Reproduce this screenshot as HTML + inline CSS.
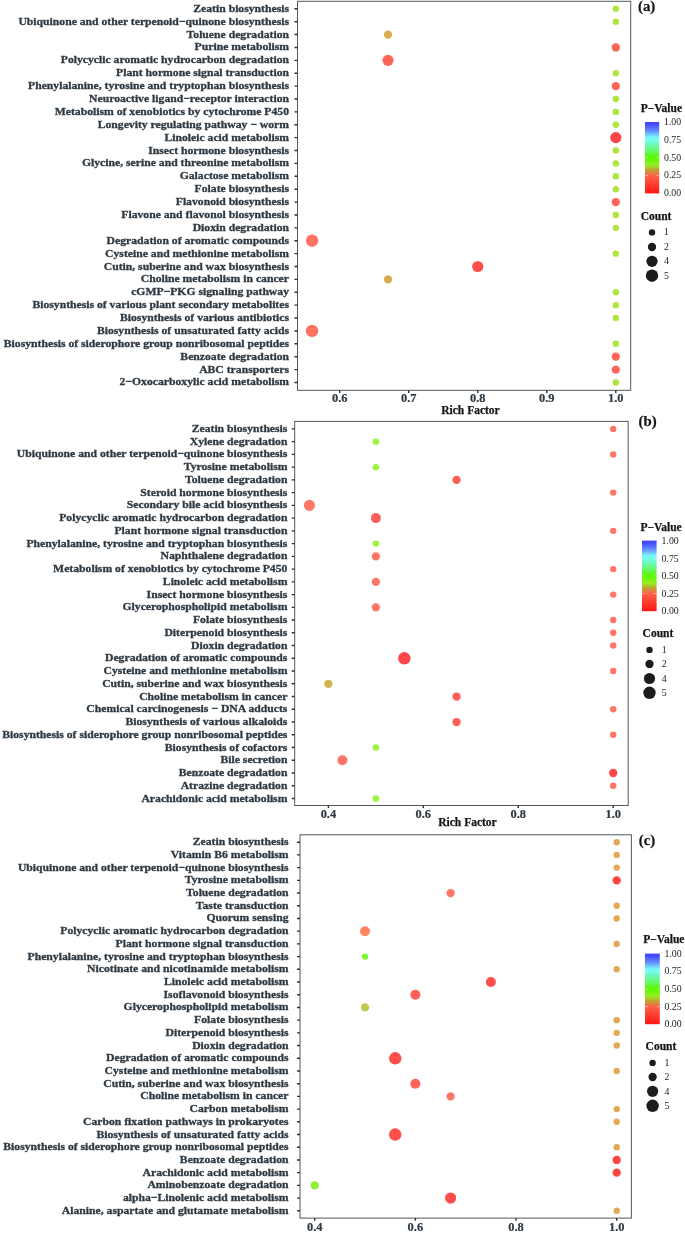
<!DOCTYPE html>
<html lang="en"><head><meta charset="utf-8"><title>KEGG enrichment bubble plots</title>
<style>html,body{margin:0;padding:0;background:#fff}body{width:685px;height:1239px;overflow:hidden}svg{display:block}text{font-family:"Liberation Serif","Times New Roman",serif}.yl{font-weight:bold;font-size:11.15px;fill:#2e3942;text-anchor:end;stroke:#2e3942;stroke-width:.3px}.xl{font-weight:bold;font-size:12.4px;fill:#2e3942;text-anchor:middle;stroke:#2e3942;stroke-width:.2px}.ttl{font-weight:bold;font-size:11.5px;fill:#161616;stroke:#161616;stroke-width:.25px}.tag{font-weight:bold;font-size:14.8px;fill:#161616;stroke:#161616;stroke-width:.25px}.lg{font-size:9.8px;fill:#1c1c1c}</style></head><body>
<svg width="685" height="1239" viewBox="0 0 685 1239">
<defs><linearGradient id="pv" x1="0" y1="1" x2="0" y2="0">
<stop offset="0" stop-color="#ff1515"/>
<stop offset="0.12" stop-color="#ff3a2c"/>
<stop offset="0.25" stop-color="#ff6248"/>
<stop offset="0.2875" stop-color="#e0823c"/>
<stop offset="0.333" stop-color="#bea632"/>
<stop offset="0.37" stop-color="#a6d42a"/>
<stop offset="0.405" stop-color="#90f020"/>
<stop offset="0.5" stop-color="#58f800"/>
<stop offset="0.62" stop-color="#68f880"/>
<stop offset="0.75" stop-color="#70fcec"/>
<stop offset="0.79" stop-color="#78f4fa"/>
<stop offset="0.87" stop-color="#6494ff"/>
<stop offset="0.95" stop-color="#4a55ff"/>
<stop offset="1" stop-color="#3e3efc"/>
</linearGradient></defs>
<rect width="685" height="1239" fill="#fff"/>
<g id="panel-a">
<rect x="297.50" y="1.30" width="333.20" height="389.00" fill="none" stroke="#505960" stroke-width="1"/>
<text class="yl" transform="translate(289.0 11.80) scale(1.0493 1)">Zeatin biosynthesis</text>
<text class="yl" transform="translate(289.0 24.69) scale(1.0493 1)">Ubiquinone and other terpenoid−quinone biosynthesis</text>
<text class="yl" transform="translate(289.0 37.57) scale(1.0493 1)">Toluene degradation</text>
<text class="yl" transform="translate(289.0 50.45) scale(1.0493 1)">Purine metabolism</text>
<text class="yl" transform="translate(289.0 63.34) scale(1.0493 1)">Polycyclic aromatic hydrocarbon degradation</text>
<text class="yl" transform="translate(289.0 76.22) scale(1.0493 1)">Plant hormone signal transduction</text>
<text class="yl" transform="translate(289.0 89.11) scale(1.0493 1)">Phenylalanine, tyrosine and tryptophan biosynthesis</text>
<text class="yl" transform="translate(289.0 101.99) scale(1.0493 1)">Neuroactive ligand−receptor interaction</text>
<text class="yl" transform="translate(289.0 114.88) scale(1.0493 1)">Metabolism of xenobiotics by cytochrome P450</text>
<text class="yl" transform="translate(289.0 127.77) scale(1.0493 1)">Longevity regulating pathway − worm</text>
<text class="yl" transform="translate(289.0 140.65) scale(1.0493 1)">Linoleic acid metabolism</text>
<text class="yl" transform="translate(289.0 153.53) scale(1.0493 1)">Insect hormone biosynthesis</text>
<text class="yl" transform="translate(289.0 166.42) scale(1.0493 1)">Glycine, serine and threonine metabolism</text>
<text class="yl" transform="translate(289.0 179.31) scale(1.0493 1)">Galactose metabolism</text>
<text class="yl" transform="translate(289.0 192.19) scale(1.0493 1)">Folate biosynthesis</text>
<text class="yl" transform="translate(289.0 205.08) scale(1.0493 1)">Flavonoid biosynthesis</text>
<text class="yl" transform="translate(289.0 217.96) scale(1.0493 1)">Flavone and flavonol biosynthesis</text>
<text class="yl" transform="translate(289.0 230.84) scale(1.0493 1)">Dioxin degradation</text>
<text class="yl" transform="translate(289.0 243.73) scale(1.0493 1)">Degradation of aromatic compounds</text>
<text class="yl" transform="translate(289.0 256.62) scale(1.0493 1)">Cysteine and methionine metabolism</text>
<text class="yl" transform="translate(289.0 269.50) scale(1.0493 1)">Cutin, suberine and wax biosynthesis</text>
<text class="yl" transform="translate(289.0 282.38) scale(1.0493 1)">Choline metabolism in cancer</text>
<text class="yl" transform="translate(289.0 295.27) scale(1.0493 1)">cGMP−PKG signaling pathway</text>
<text class="yl" transform="translate(289.0 308.16) scale(1.0493 1)">Biosynthesis of various plant secondary metabolites</text>
<text class="yl" transform="translate(289.0 321.04) scale(1.0493 1)">Biosynthesis of various antibiotics</text>
<text class="yl" transform="translate(289.0 333.93) scale(1.0493 1)">Biosynthesis of unsaturated fatty acids</text>
<text class="yl" transform="translate(289.0 346.81) scale(1.0493 1)">Biosynthesis of siderophore group nonribosomal peptides</text>
<text class="yl" transform="translate(289.0 359.69) scale(1.0493 1)">Benzoate degradation</text>
<text class="yl" transform="translate(289.0 372.58) scale(1.0493 1)">ABC transporters</text>
<text class="yl" transform="translate(289.0 385.47) scale(1.0493 1)">2−Oxocarboxylic acid metabolism</text>
<text class="xl" x="339.70" y="401.5">0.6</text>
<text class="xl" x="408.72" y="401.5">0.7</text>
<text class="xl" x="477.75" y="401.5">0.8</text>
<text class="xl" x="546.77" y="401.5">0.9</text>
<text class="xl" x="615.80" y="401.5">1.0</text>
<path d="M294.50 8.80H297.50M294.50 21.69H297.50M294.50 34.57H297.50M294.50 47.45H297.50M294.50 60.34H297.50M294.50 73.22H297.50M294.50 86.11H297.50M294.50 98.99H297.50M294.50 111.88H297.50M294.50 124.77H297.50M294.50 137.65H297.50M294.50 150.53H297.50M294.50 163.42H297.50M294.50 176.31H297.50M294.50 189.19H297.50M294.50 202.08H297.50M294.50 214.96H297.50M294.50 227.84H297.50M294.50 240.73H297.50M294.50 253.62H297.50M294.50 266.50H297.50M294.50 279.38H297.50M294.50 292.27H297.50M294.50 305.16H297.50M294.50 318.04H297.50M294.50 330.93H297.50M294.50 343.81H297.50M294.50 356.69H297.50M294.50 369.58H297.50M294.50 382.47H297.50M339.70 390.30V392.90M408.72 390.30V392.90M477.75 390.30V392.90M546.77 390.30V392.90M615.80 390.30V392.90" stroke="#2a3238" stroke-width="1.4" fill="none"/>
<text class="ttl" text-anchor="middle" x="470.5" y="414.1">Rich Factor</text>
<circle cx="615.80" cy="8.80" r="3.20" fill="#b0e43f"/>
<circle cx="615.80" cy="21.69" r="3.20" fill="#b0e43f"/>
<circle cx="388.02" cy="34.57" r="4.15" fill="#d7ae4f"/>
<circle cx="615.80" cy="47.45" r="4.15" fill="#ff6459"/>
<circle cx="388.02" cy="60.34" r="5.60" fill="#ff6459"/>
<circle cx="615.80" cy="73.22" r="3.20" fill="#b0e43f"/>
<circle cx="615.80" cy="86.11" r="4.15" fill="#ff6459"/>
<circle cx="615.80" cy="98.99" r="3.20" fill="#b0e43f"/>
<circle cx="615.80" cy="111.88" r="3.20" fill="#b0e43f"/>
<circle cx="615.80" cy="124.77" r="3.20" fill="#b0e43f"/>
<circle cx="615.80" cy="137.65" r="5.60" fill="#ff4444"/>
<circle cx="615.80" cy="150.53" r="3.20" fill="#b0e43f"/>
<circle cx="615.80" cy="163.42" r="3.20" fill="#b0e43f"/>
<circle cx="615.80" cy="176.31" r="3.20" fill="#b0e43f"/>
<circle cx="615.80" cy="189.19" r="3.20" fill="#b0e43f"/>
<circle cx="615.80" cy="202.08" r="4.15" fill="#ff6459"/>
<circle cx="615.80" cy="214.96" r="3.20" fill="#b0e43f"/>
<circle cx="615.80" cy="227.84" r="3.20" fill="#b0e43f"/>
<circle cx="312.09" cy="240.73" r="6.20" fill="#ff7362"/>
<circle cx="615.80" cy="253.62" r="3.20" fill="#b0e43f"/>
<circle cx="477.75" cy="266.50" r="5.60" fill="#ff4f4c"/>
<circle cx="388.02" cy="279.38" r="4.15" fill="#d7ae4f"/>
<circle cx="615.80" cy="292.27" r="3.20" fill="#b0e43f"/>
<circle cx="615.80" cy="305.16" r="3.20" fill="#b0e43f"/>
<circle cx="615.80" cy="318.04" r="3.20" fill="#b0e43f"/>
<circle cx="312.09" cy="330.93" r="6.20" fill="#ff7362"/>
<circle cx="615.80" cy="343.81" r="3.20" fill="#b0e43f"/>
<circle cx="615.80" cy="356.69" r="4.15" fill="#ff6459"/>
<circle cx="615.80" cy="369.58" r="4.15" fill="#ff6459"/>
<circle cx="615.80" cy="382.47" r="3.20" fill="#b0e43f"/>
<text class="tag" x="638.0" y="10.7">(a)</text>
<text class="ttl" x="640.8" y="111.7">P−Value</text>
<rect x="645.0" y="122.0" width="14.2" height="71.4" fill="url(#pv)"/>
<text class="lg" x="664.0" y="124.80">1.00</text>
<path d="M645.0 139.85h2.9M659.2 139.85h-2.9" stroke="#fff" stroke-opacity=".8" stroke-width=".5"/>
<text class="lg" x="664.0" y="142.65">0.75</text>
<path d="M645.0 157.70h2.9M659.2 157.70h-2.9" stroke="#fff" stroke-opacity=".8" stroke-width=".5"/>
<text class="lg" x="664.0" y="160.50">0.50</text>
<path d="M645.0 175.55h2.9M659.2 175.55h-2.9" stroke="#fff" stroke-opacity=".8" stroke-width=".5"/>
<text class="lg" x="664.0" y="178.35">0.25</text>
<text class="lg" x="664.0" y="196.20">0.00</text>
<text class="ttl" x="640.7" y="219.7">Count</text>
<circle cx="652.0" cy="232.4" r="3.20" fill="#1b1d1d"/>
<text class="lg" x="664.1" y="235.20">1</text>
<circle cx="652.0" cy="247.0" r="4.15" fill="#1b1d1d"/>
<text class="lg" x="664.1" y="249.80">2</text>
<circle cx="652.0" cy="261.3" r="5.60" fill="#1b1d1d"/>
<text class="lg" x="664.1" y="264.10">4</text>
<circle cx="652.0" cy="275.7" r="6.20" fill="#1b1d1d"/>
<text class="lg" x="664.1" y="278.50">5</text>
</g>
<g id="panel-b">
<rect x="294.70" y="421.40" width="333.50" height="384.10" fill="none" stroke="#505960" stroke-width="1"/>
<text class="yl" transform="translate(287.4 431.90) scale(1.0493 1)">Zeatin biosynthesis</text>
<text class="yl" transform="translate(287.4 444.64) scale(1.0493 1)">Xylene degradation</text>
<text class="yl" transform="translate(287.4 457.39) scale(1.0493 1)">Ubiquinone and other terpenoid−quinone biosynthesis</text>
<text class="yl" transform="translate(287.4 470.13) scale(1.0493 1)">Tyrosine metabolism</text>
<text class="yl" transform="translate(287.4 482.88) scale(1.0493 1)">Toluene degradation</text>
<text class="yl" transform="translate(287.4 495.62) scale(1.0493 1)">Steroid hormone biosynthesis</text>
<text class="yl" transform="translate(287.4 508.37) scale(1.0493 1)">Secondary bile acid biosynthesis</text>
<text class="yl" transform="translate(287.4 521.12) scale(1.0493 1)">Polycyclic aromatic hydrocarbon degradation</text>
<text class="yl" transform="translate(287.4 533.86) scale(1.0493 1)">Plant hormone signal transduction</text>
<text class="yl" transform="translate(287.4 546.61) scale(1.0493 1)">Phenylalanine, tyrosine and tryptophan biosynthesis</text>
<text class="yl" transform="translate(287.4 559.35) scale(1.0493 1)">Naphthalene degradation</text>
<text class="yl" transform="translate(287.4 572.10) scale(1.0493 1)">Metabolism of xenobiotics by cytochrome P450</text>
<text class="yl" transform="translate(287.4 584.84) scale(1.0493 1)">Linoleic acid metabolism</text>
<text class="yl" transform="translate(287.4 597.59) scale(1.0493 1)">Insect hormone biosynthesis</text>
<text class="yl" transform="translate(287.4 610.33) scale(1.0493 1)">Glycerophospholipid metabolism</text>
<text class="yl" transform="translate(287.4 623.07) scale(1.0493 1)">Folate biosynthesis</text>
<text class="yl" transform="translate(287.4 635.82) scale(1.0493 1)">Diterpenoid biosynthesis</text>
<text class="yl" transform="translate(287.4 648.56) scale(1.0493 1)">Dioxin degradation</text>
<text class="yl" transform="translate(287.4 661.31) scale(1.0493 1)">Degradation of aromatic compounds</text>
<text class="yl" transform="translate(287.4 674.05) scale(1.0493 1)">Cysteine and methionine metabolism</text>
<text class="yl" transform="translate(287.4 686.80) scale(1.0493 1)">Cutin, suberine and wax biosynthesis</text>
<text class="yl" transform="translate(287.4 699.54) scale(1.0493 1)">Choline metabolism in cancer</text>
<text class="yl" transform="translate(287.4 712.29) scale(1.0493 1)">Chemical carcinogenesis − DNA adducts</text>
<text class="yl" transform="translate(287.4 725.03) scale(1.0493 1)">Biosynthesis of various alkaloids</text>
<text class="yl" transform="translate(287.4 737.78) scale(1.0493 1)">Biosynthesis of siderophore group nonribosomal peptides</text>
<text class="yl" transform="translate(287.4 750.52) scale(1.0493 1)">Biosynthesis of cofactors</text>
<text class="yl" transform="translate(287.4 763.27) scale(1.0493 1)">Bile secretion</text>
<text class="yl" transform="translate(287.4 776.01) scale(1.0493 1)">Benzoate degradation</text>
<text class="yl" transform="translate(287.4 788.76) scale(1.0493 1)">Atrazine degradation</text>
<text class="yl" transform="translate(287.4 801.50) scale(1.0493 1)">Arachidonic acid metabolism</text>
<text class="xl" x="328.40" y="818.0">0.4</text>
<text class="xl" x="423.33" y="818.0">0.6</text>
<text class="xl" x="518.27" y="818.0">0.8</text>
<text class="xl" x="613.20" y="818.0">1.0</text>
<path d="M291.70 428.90H294.70M291.70 441.64H294.70M291.70 454.39H294.70M291.70 467.13H294.70M291.70 479.88H294.70M291.70 492.62H294.70M291.70 505.37H294.70M291.70 518.12H294.70M291.70 530.86H294.70M291.70 543.61H294.70M291.70 556.35H294.70M291.70 569.10H294.70M291.70 581.84H294.70M291.70 594.59H294.70M291.70 607.33H294.70M291.70 620.07H294.70M291.70 632.82H294.70M291.70 645.56H294.70M291.70 658.31H294.70M291.70 671.05H294.70M291.70 683.80H294.70M291.70 696.54H294.70M291.70 709.29H294.70M291.70 722.03H294.70M291.70 734.78H294.70M291.70 747.52H294.70M291.70 760.27H294.70M291.70 773.01H294.70M291.70 785.76H294.70M291.70 798.50H294.70M328.40 805.50V808.10M423.33 805.50V808.10M518.27 805.50V808.10M613.20 805.50V808.10" stroke="#2a3238" stroke-width="1.4" fill="none"/>
<text class="ttl" text-anchor="middle" x="467.5" y="825.8">Rich Factor</text>
<circle cx="613.20" cy="428.90" r="3.20" fill="#ff7666"/>
<circle cx="375.87" cy="441.64" r="3.20" fill="#9cf53c"/>
<circle cx="613.20" cy="454.39" r="3.20" fill="#ff7666"/>
<circle cx="375.87" cy="467.13" r="3.20" fill="#9cf53c"/>
<circle cx="456.56" cy="479.88" r="4.15" fill="#ff5f58"/>
<circle cx="613.20" cy="492.62" r="3.20" fill="#ff7666"/>
<circle cx="309.41" cy="505.37" r="5.60" fill="#ff7666"/>
<circle cx="375.87" cy="518.12" r="5.00" fill="#ff5f58"/>
<circle cx="613.20" cy="530.86" r="3.20" fill="#ff7666"/>
<circle cx="375.87" cy="543.61" r="3.20" fill="#9cf53c"/>
<circle cx="375.87" cy="556.35" r="4.15" fill="#ff7666"/>
<circle cx="613.20" cy="569.10" r="3.20" fill="#ff7666"/>
<circle cx="375.87" cy="581.84" r="4.15" fill="#ff7666"/>
<circle cx="613.20" cy="594.59" r="3.20" fill="#ff7666"/>
<circle cx="375.87" cy="607.33" r="4.15" fill="#ff7666"/>
<circle cx="613.20" cy="620.07" r="3.20" fill="#ff7666"/>
<circle cx="613.20" cy="632.82" r="3.20" fill="#ff7666"/>
<circle cx="613.20" cy="645.56" r="3.20" fill="#ff7666"/>
<circle cx="404.35" cy="658.31" r="6.20" fill="#ff4646"/>
<circle cx="613.20" cy="671.05" r="3.20" fill="#ff7666"/>
<circle cx="328.40" cy="683.80" r="4.15" fill="#cdb450"/>
<circle cx="456.56" cy="696.54" r="4.15" fill="#ff5f58"/>
<circle cx="613.20" cy="709.29" r="3.20" fill="#ff7666"/>
<circle cx="456.56" cy="722.03" r="4.15" fill="#ff5f58"/>
<circle cx="613.20" cy="734.78" r="3.20" fill="#ff7666"/>
<circle cx="375.87" cy="747.52" r="3.20" fill="#9cf53c"/>
<circle cx="342.40" cy="760.27" r="5.00" fill="#ff7666"/>
<circle cx="613.20" cy="773.01" r="4.15" fill="#ff4646"/>
<circle cx="613.20" cy="785.76" r="3.20" fill="#ff7666"/>
<circle cx="375.87" cy="798.50" r="3.20" fill="#9cf53c"/>
<text class="tag" x="638.5" y="426.4">(b)</text>
<text class="ttl" x="640.4" y="530.6">P−Value</text>
<rect x="642.0" y="540.6" width="14.6" height="70.6" fill="url(#pv)"/>
<text class="lg" x="661.6" y="543.85">1.00</text>
<path d="M642.0 558.25h2.9M656.6 558.25h-2.9" stroke="#fff" stroke-opacity=".8" stroke-width=".5"/>
<text class="lg" x="661.6" y="561.50">0.75</text>
<path d="M642.0 575.90h2.9M656.6 575.90h-2.9" stroke="#fff" stroke-opacity=".8" stroke-width=".5"/>
<text class="lg" x="661.6" y="579.15">0.50</text>
<path d="M642.0 593.55h2.9M656.6 593.55h-2.9" stroke="#fff" stroke-opacity=".8" stroke-width=".5"/>
<text class="lg" x="661.6" y="596.80">0.25</text>
<text class="lg" x="661.6" y="614.45">0.00</text>
<text class="ttl" x="642.6" y="637.3">Count</text>
<circle cx="649.5" cy="649.9" r="3.20" fill="#1b1d1d"/>
<text class="lg" x="661.8" y="653.15">1</text>
<circle cx="649.5" cy="664.0" r="4.15" fill="#1b1d1d"/>
<text class="lg" x="661.8" y="667.25">2</text>
<circle cx="649.5" cy="678.5" r="5.60" fill="#1b1d1d"/>
<text class="lg" x="661.8" y="681.75">4</text>
<circle cx="649.5" cy="692.8" r="6.20" fill="#1b1d1d"/>
<text class="lg" x="661.8" y="696.05">5</text>
</g>
<g id="panel-c">
<rect x="300.00" y="834.80" width="331.40" height="383.30" fill="none" stroke="#505960" stroke-width="1"/>
<text class="yl" transform="translate(288.5 845.20) scale(1.0493 1)">Zeatin biosynthesis</text>
<text class="yl" transform="translate(288.5 857.91) scale(1.0493 1)">Vitamin B6 metabolism</text>
<text class="yl" transform="translate(288.5 870.62) scale(1.0493 1)">Ubiquinone and other terpenoid−quinone biosynthesis</text>
<text class="yl" transform="translate(288.5 883.33) scale(1.0493 1)">Tyrosine metabolism</text>
<text class="yl" transform="translate(288.5 896.04) scale(1.0493 1)">Toluene degradation</text>
<text class="yl" transform="translate(288.5 908.75) scale(1.0493 1)">Taste transduction</text>
<text class="yl" transform="translate(288.5 921.46) scale(1.0493 1)">Quorum sensing</text>
<text class="yl" transform="translate(288.5 934.17) scale(1.0493 1)">Polycyclic aromatic hydrocarbon degradation</text>
<text class="yl" transform="translate(288.5 946.88) scale(1.0493 1)">Plant hormone signal transduction</text>
<text class="yl" transform="translate(288.5 959.59) scale(1.0493 1)">Phenylalanine, tyrosine and tryptophan biosynthesis</text>
<text class="yl" transform="translate(288.5 972.30) scale(1.0493 1)">Nicotinate and nicotinamide metabolism</text>
<text class="yl" transform="translate(288.5 985.01) scale(1.0493 1)">Linoleic acid metabolism</text>
<text class="yl" transform="translate(288.5 997.72) scale(1.0493 1)">Isoflavonoid biosynthesis</text>
<text class="yl" transform="translate(288.5 1010.43) scale(1.0493 1)">Glycerophospholipid metabolism</text>
<text class="yl" transform="translate(288.5 1023.14) scale(1.0493 1)">Folate biosynthesis</text>
<text class="yl" transform="translate(288.5 1035.85) scale(1.0493 1)">Diterpenoid biosynthesis</text>
<text class="yl" transform="translate(288.5 1048.56) scale(1.0493 1)">Dioxin degradation</text>
<text class="yl" transform="translate(288.5 1061.27) scale(1.0493 1)">Degradation of aromatic compounds</text>
<text class="yl" transform="translate(288.5 1073.98) scale(1.0493 1)">Cysteine and methionine metabolism</text>
<text class="yl" transform="translate(288.5 1086.69) scale(1.0493 1)">Cutin, suberine and wax biosynthesis</text>
<text class="yl" transform="translate(288.5 1099.40) scale(1.0493 1)">Choline metabolism in cancer</text>
<text class="yl" transform="translate(288.5 1112.11) scale(1.0493 1)">Carbon metabolism</text>
<text class="yl" transform="translate(288.5 1124.82) scale(1.0493 1)">Carbon fixation pathways in prokaryotes</text>
<text class="yl" transform="translate(288.5 1137.53) scale(1.0493 1)">Biosynthesis of unsaturated fatty acids</text>
<text class="yl" transform="translate(288.5 1150.24) scale(1.0493 1)">Biosynthesis of siderophore group nonribosomal peptides</text>
<text class="yl" transform="translate(288.5 1162.95) scale(1.0493 1)">Benzoate degradation</text>
<text class="yl" transform="translate(288.5 1175.66) scale(1.0493 1)">Arachidonic acid metabolism</text>
<text class="yl" transform="translate(288.5 1188.37) scale(1.0493 1)">Aminobenzoate degradation</text>
<text class="yl" transform="translate(288.5 1201.08) scale(1.0493 1)">alpha−Linolenic acid metabolism</text>
<text class="yl" transform="translate(288.5 1213.79) scale(1.0493 1)">Alanine, aspartate and glutamate metabolism</text>
<text class="xl" x="314.70" y="1230.9">0.4</text>
<text class="xl" x="415.37" y="1230.9">0.6</text>
<text class="xl" x="516.03" y="1230.9">0.8</text>
<text class="xl" x="616.70" y="1230.9">1.0</text>
<path d="M297.00 842.20H300.00M297.00 854.91H300.00M297.00 867.62H300.00M297.00 880.33H300.00M297.00 893.04H300.00M297.00 905.75H300.00M297.00 918.46H300.00M297.00 931.17H300.00M297.00 943.88H300.00M297.00 956.59H300.00M297.00 969.30H300.00M297.00 982.01H300.00M297.00 994.72H300.00M297.00 1007.43H300.00M297.00 1020.14H300.00M297.00 1032.85H300.00M297.00 1045.56H300.00M297.00 1058.27H300.00M297.00 1070.98H300.00M297.00 1083.69H300.00M297.00 1096.40H300.00M297.00 1109.11H300.00M297.00 1121.82H300.00M297.00 1134.53H300.00M297.00 1147.24H300.00M297.00 1159.95H300.00M297.00 1172.66H300.00M297.00 1185.37H300.00M297.00 1198.08H300.00M297.00 1210.79H300.00M314.70 1218.10V1220.70M415.37 1218.10V1220.70M516.03 1218.10V1220.70M616.70 1218.10V1220.70" stroke="#2a3238" stroke-width="1.4" fill="none"/>
<circle cx="616.70" cy="842.20" r="3.20" fill="#e2a856"/>
<circle cx="616.70" cy="854.91" r="3.20" fill="#e2a856"/>
<circle cx="616.70" cy="867.62" r="3.20" fill="#e2a856"/>
<circle cx="616.70" cy="880.33" r="4.15" fill="#ff4444"/>
<circle cx="450.60" cy="893.04" r="4.15" fill="#ff7666"/>
<circle cx="616.70" cy="905.75" r="3.20" fill="#e2a856"/>
<circle cx="616.70" cy="918.46" r="3.20" fill="#e2a856"/>
<circle cx="365.03" cy="931.17" r="5.00" fill="#ff8462"/>
<circle cx="616.70" cy="943.88" r="3.20" fill="#e2a856"/>
<circle cx="365.03" cy="956.59" r="3.20" fill="#7cf53a"/>
<circle cx="616.70" cy="969.30" r="3.20" fill="#e2a856"/>
<circle cx="490.87" cy="982.01" r="5.00" fill="#ff4f4c"/>
<circle cx="415.37" cy="994.72" r="5.00" fill="#ff5f58"/>
<circle cx="365.03" cy="1007.43" r="4.15" fill="#c0c94a"/>
<circle cx="616.70" cy="1020.14" r="3.20" fill="#e2a856"/>
<circle cx="616.70" cy="1032.85" r="3.20" fill="#e2a856"/>
<circle cx="616.70" cy="1045.56" r="3.20" fill="#e2a856"/>
<circle cx="395.23" cy="1058.27" r="6.20" fill="#ff4f4c"/>
<circle cx="616.70" cy="1070.98" r="3.20" fill="#e2a856"/>
<circle cx="415.37" cy="1083.69" r="5.00" fill="#ff6459"/>
<circle cx="450.60" cy="1096.40" r="4.15" fill="#ff7666"/>
<circle cx="616.70" cy="1109.11" r="3.20" fill="#e2a856"/>
<circle cx="616.70" cy="1121.82" r="3.20" fill="#e2a856"/>
<circle cx="395.23" cy="1134.53" r="6.20" fill="#ff4f4c"/>
<circle cx="616.70" cy="1147.24" r="3.20" fill="#e2a856"/>
<circle cx="616.70" cy="1159.95" r="4.15" fill="#ff4444"/>
<circle cx="616.70" cy="1172.66" r="4.15" fill="#ff4444"/>
<circle cx="314.70" cy="1185.37" r="4.15" fill="#8cf030"/>
<circle cx="450.60" cy="1198.08" r="5.60" fill="#ff4f4c"/>
<circle cx="616.70" cy="1210.79" r="3.20" fill="#e2a856"/>
<text class="tag" x="638.8" y="845.0">(c)</text>
<text class="ttl" x="643.2" y="943.2">P−Value</text>
<rect x="645.0" y="953.6" width="14.8" height="70.6" fill="url(#pv)"/>
<text class="lg" x="664.5" y="956.80">1.00</text>
<path d="M645.0 971.25h2.9M659.8 971.25h-2.9" stroke="#fff" stroke-opacity=".8" stroke-width=".5"/>
<text class="lg" x="664.5" y="974.45">0.75</text>
<path d="M645.0 988.90h2.9M659.8 988.90h-2.9" stroke="#fff" stroke-opacity=".8" stroke-width=".5"/>
<text class="lg" x="664.5" y="992.10">0.50</text>
<path d="M645.0 1006.55h2.9M659.8 1006.55h-2.9" stroke="#fff" stroke-opacity=".8" stroke-width=".5"/>
<text class="lg" x="664.5" y="1009.75">0.25</text>
<text class="lg" x="664.5" y="1027.40">0.00</text>
<text class="ttl" x="645.6" y="1050.2">Count</text>
<circle cx="652.6" cy="1062.9" r="3.20" fill="#1b1d1d"/>
<text class="lg" x="664.6" y="1066.10">1</text>
<circle cx="652.6" cy="1077.0" r="4.15" fill="#1b1d1d"/>
<text class="lg" x="664.6" y="1080.20">2</text>
<circle cx="652.6" cy="1091.3" r="5.60" fill="#1b1d1d"/>
<text class="lg" x="664.6" y="1094.50">4</text>
<circle cx="652.6" cy="1105.8" r="6.20" fill="#1b1d1d"/>
<text class="lg" x="664.6" y="1109.00">5</text>
</g>
</svg></body></html>
